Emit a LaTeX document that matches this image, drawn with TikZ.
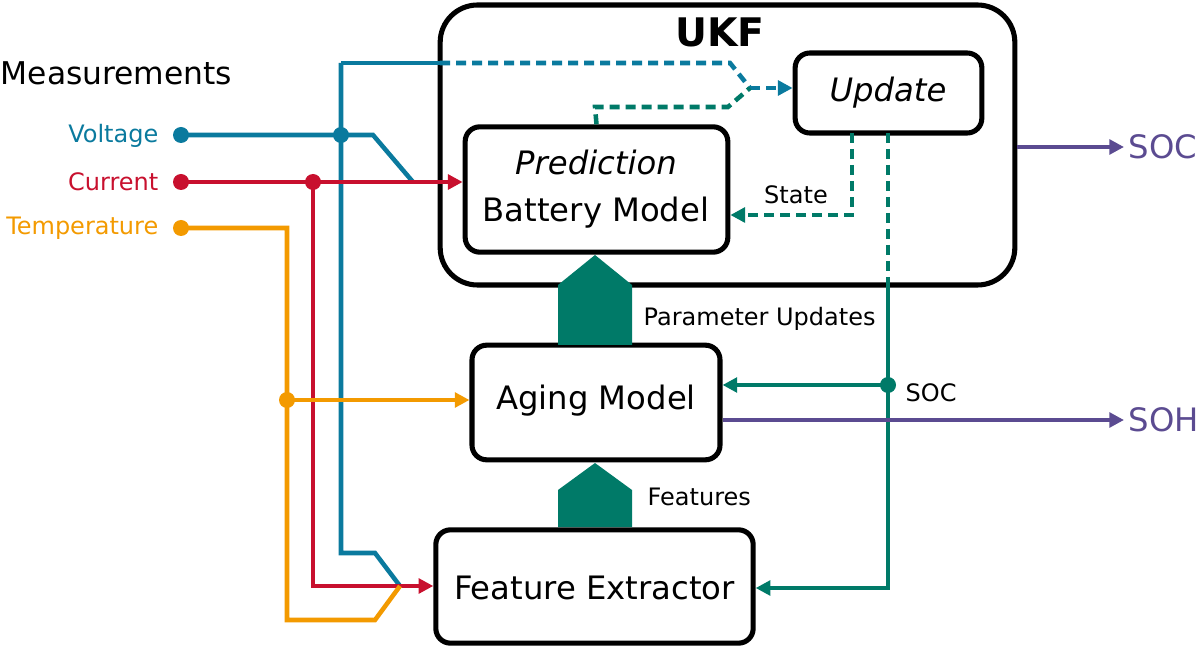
\documentclass[tikz,border=0pt]{standalone}
\usepackage{fontspec}
\setmainfont{DejaVu Sans}
\usetikzlibrary{arrows.meta}
\definecolor{vblue}{HTML}{0A7A9E}
\definecolor{cred}{HTML}{C8102E}
\definecolor{torange}{HTML}{F39A00}
\definecolor{kgreen}{HTML}{007A68}
\definecolor{kpurple}{HTML}{5B4B91}
\begin{document}
\begin{tikzpicture}[x=0.75pt,y=-0.75pt,
  box/.style={draw=black,line width=3.8pt,rounded corners=11pt,inner sep=0pt},
  conn/.style={line width=3.4pt,-{Triangle[length=11pt,width=11pt]}},
  plain/.style={line width=3.4pt},
  dsh/.style={dash pattern=on 7.5pt off 4.5pt},
  dot/.style={circle,inner sep=0pt,minimum size=12pt},
  lbl/.style={font=\fontsize{18}{21}\selectfont},
  big/.style={font=\fontsize{24.2}{28}\selectfont}]
\useasboundingbox (0,0) rectangle (1199,648);
% boxes
\node[box,rounded corners=28pt,minimum width=431pt,minimum height=210pt] (ukf) at (727.5,145) {};
\node[font=\fontsize{29.5}{32}\selectfont\bfseries] (ukft) at (720,32) {UKF};
\node[box,minimum width=140pt,minimum height=60pt] (upd) at (888.5,93) {};
\node[font=\fontsize{24.2}{28}\selectfont\itshape] (updt) at (888,93) {Update};
\node[box,minimum width=197pt,minimum height=94pt] (pred) at (596.5,189.5) {};
\node[font=\fontsize{24.2}{28}\selectfont\itshape] (predt) at (596,162) {Prediction};
\node[big] (batt) at (596,213) {Battery Model};
\node[box,minimum width=186pt,minimum height=86pt] (aging) at (596,402.5) {};
\node[big] (agingt) at (596,401) {Aging Model};
\node[box,minimum width=238pt,minimum height=85pt] (feat) at (594.5,586.5) {};
\node[big] (featt) at (594.5,588) {Feature Extractor};
% big arrows
\fill[kgreen] (558,345) -- (558,285) -- (595,255) -- (632,285) -- (632,345) -- cycle;
\fill[kgreen] (558,527) -- (558,490) -- (595,463) -- (632,490) -- (632,527) -- cycle;
\node[lbl,anchor=west] (pu) at (639,319) {Parameter Updates};
\node[lbl,anchor=west] (fe) at (643,497) {Features};
% measurements
\node[font=\fontsize{23.5}{27}\selectfont,anchor=west] (meas) at (-4,73) {Measurements};
\node[lbl,text=vblue,anchor=east] (vl) at (163,136) {Voltage};
\node[lbl,text=cred,anchor=east] (cl) at (163,182) {Current};
\node[lbl,text=torange,anchor=east] (tl) at (163,228) {Temperature};
\node[dot,fill=vblue] (vd) at (181,135) {};
\node[dot,fill=cred] (cd) at (181,182) {};
\node[dot,fill=torange] (td) at (181,228) {};
\node[dot,fill=vblue] (vj) at (341,135) {};
\node[dot,fill=cred] (cj) at (313,182) {};
\node[dot,fill=torange] (tj) at (287,400) {};
\coordinate (fin) at (400,586);
\coordinate (pin) at (413,182);
% voltage
\draw[plain,vblue] (vd.center) -- (373,135) -- (pin);
\draw[plain,vblue] (341,63) -- (341,553) -- (375,553) -- (fin);
\draw[plain,vblue] (341,63) -- (440,63);
\draw[plain,vblue,dsh] (440,63) -- (730,63) -- (750,88);
\coordinate (mrg) at (750,88);
\draw[conn,vblue,dsh] (mrg) -- (upd.west|-mrg);
% current
\draw[conn,cred] (cd.center) -- (pred.west|-cd);
\draw[conn,cred] (cj.center) -- (313,586) -- (feat.west|-fin);
% temperature
\draw[plain,torange] (td.center) -- (287,228) -- (287,620) -- (375,620) -- (fin);
\draw[conn,torange] (tj.center) -- (aging.west|-tj);
% green dashed
\draw[plain,kgreen,dsh] (pred.north) -- (595,107) -- (728,107) -- (mrg);
\draw[conn,kgreen,dsh] (852,133) -- (852,215) -- (pred.east|-0,215);
\node[lbl,anchor=center] (st) at (796,195) {State};
\draw[plain,kgreen,dsh] (888,133) -- (888,285);
\node[dot,fill=kgreen] (sj) at (888,385) {};
\draw[conn,kgreen] (888,285) -- (888,588) -- (feat.east|-0,588);
\draw[conn,kgreen] (sj.center) -- (aging.east|-sj);
\node[lbl,anchor=west] (socl) at (901,393) {SOC};
% outputs
\node[big,text=kpurple,anchor=west] (soc) at (1124,147) {SOC};
\node[big,text=kpurple,anchor=west] (soh) at (1124,420) {SOH};
\draw[conn,kpurple] (ukf.east|-soc) -- (soc.west);
\draw[conn,kpurple] (aging.east|-soh) -- (soh.west);
\end{tikzpicture}
\end{document}
